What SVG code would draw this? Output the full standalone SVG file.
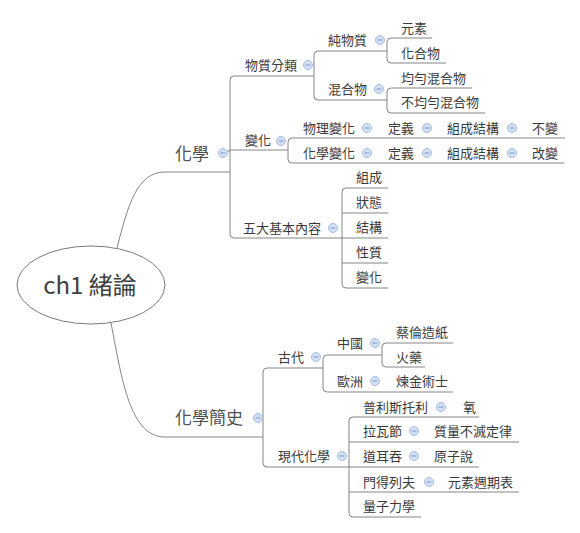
<svg xmlns="http://www.w3.org/2000/svg" width="580" height="533" viewBox="0 0 580 533">
<defs>
<style>
text{font-family:"Noto Sans CJK TC","Noto Sans CJK SC","Noto Sans",sans-serif;fill:#3a3a3a;font-size:13px}
.l1{font-size:17px;fill:#505050}
.root{font-size:24px;fill:#404040}
.c{fill:none;stroke:#858585;stroke-width:1}
.ic circle{fill:#d3e0f4;stroke:#a7bde2;stroke-width:1}
.ic line{stroke:#7d99cc;stroke-width:1}
</style>
<g id="ic" class="ic"><circle cx="0" cy="0" r="4.5"/><line x1="-2.3" y1="0" x2="2.3" y2="0"/></g>
</defs>
<rect width="580" height="533" fill="#fff"/>
<g id="connectors">
<path class="c" d="M117,248 C128,205 137,172 165,172 H230"/>
<path class="c" d="M227,151 H230"/>
<path class="c" d="M313,76 H234 Q230,76 230,80 V234 Q230,238 234,238 H342"/>
<path class="c" d="M230,150 H288"/>
<path class="c" d="M387,51 H318 Q314,51 314,55 V96 Q314,100 318,100 H387"/>
<path class="c" d="M314,76 H313"/>
<path class="c" d="M432,38 H391 Q387,38 387,42 V59 Q387,63 391,63 H446"/>
<path class="c" d="M472,88 H391 Q387,88 387,92 V109 Q387,113 391,113 H485"/>
<path class="c" d="M565,138 H292 Q288,138 288,142 V159 Q288,163 292,163 H564"/>
<path class="c" d="M388,188 H346 Q342,188 342,192 V284 Q342,288 346,288 H388 M342,213 H388 M342,238 H388 M342,263 H388"/>
<path class="c" d="M111,323 C122,380 130,437 165,437 H263"/>
<path class="c" d="M323,368 H267 Q263,368 263,372 V463 Q263,467 267,467 H349"/>
<path class="c" d="M382,355 H327 Q323,355 323,359 V388 Q323,392 327,392 H453"/>
<path class="c" d="M453,343 H386 Q382,343 382,347 V363 Q382,367 386,367 H425"/>
<path class="c" d="M479,417 H353 Q349,417 349,421 V513 Q349,517 353,517 H421 M349,442 H519 M349,467 H479 M349,492 H519"/>
</g>
<g id="root"><ellipse cx="91" cy="285" rx="74" ry="39" fill="#fff" stroke="#7a7a7a" stroke-width="1"/><text class="root" x="90" y="294" text-anchor="middle">ch1 緒論</text></g>
<g id="n-huaxue"><text class="l1" x="175" y="160">化學</text><use href="#ic" x="223" y="153"/></g>
<g id="n-wuzhifenlei"><text x="245" y="70">物質分類</text><use href="#ic" x="308" y="65"/></g>
<g id="n-chunwuzhi"><text x="328" y="45">純物質</text><use href="#ic" x="380" y="40"/></g>
<g id="n-yuansu"><text x="401" y="33">元素</text></g>
<g id="n-huahewu"><text x="401" y="58">化合物</text></g>
<g id="n-hunhewu"><text x="328" y="94">混合物</text><use href="#ic" x="379" y="89"/></g>
<g id="n-junyun"><text x="401" y="83">均勻混合物</text></g>
<g id="n-bujunyun"><text x="401" y="107">不均勻混合物</text></g>
<g id="n-bianhua"><text x="245" y="145">變化</text><use href="#ic" x="281" y="141"/></g>
<g id="n-wulibianhua"><text x="303" y="133">物理變化</text><use href="#ic" x="367" y="128"/></g>
<g id="n-dingyi1"><text x="388" y="133">定義</text><use href="#ic" x="427" y="128"/></g>
<g id="n-zucheng1"><text x="447" y="133">組成結構</text><use href="#ic" x="512" y="128"/></g>
<g id="n-bubian"><text x="532" y="133">不變</text></g>
<g id="n-huaxuebianhua"><text x="303" y="158">化學變化</text><use href="#ic" x="367" y="153"/></g>
<g id="n-dingyi2"><text x="388" y="158">定義</text><use href="#ic" x="427" y="153"/></g>
<g id="n-zucheng2"><text x="447" y="158">組成結構</text><use href="#ic" x="512" y="153"/></g>
<g id="n-gaibian"><text x="532" y="158">改變</text></g>
<g id="n-wuda"><text x="243" y="233">五大基本內容</text><use href="#ic" x="333" y="228"/></g>
<g id="n-zc"><text x="356" y="182">組成</text></g>
<g id="n-zt"><text x="356" y="207">狀態</text></g>
<g id="n-jg"><text x="356" y="232">結構</text></g>
<g id="n-xz"><text x="356" y="257">性質</text></g>
<g id="n-bh"><text x="356" y="282">變化</text></g>
<g id="n-jianshi"><text class="l1" x="175" y="424">化學簡史</text><use href="#ic" x="258" y="418"/></g>
<g id="n-gudai"><text x="278" y="362">古代</text><use href="#ic" x="316" y="357"/></g>
<g id="n-zhongguo"><text x="337" y="348">中國</text><use href="#ic" x="375" y="343"/></g>
<g id="n-cailun"><text x="396" y="337">蔡倫造紙</text></g>
<g id="n-huoyao"><text x="396" y="362">火藥</text></g>
<g id="n-ouzhou"><text x="337" y="386">歐洲</text><use href="#ic" x="375" y="381"/></g>
<g id="n-lianjin"><text x="396" y="386">煉金術士</text></g>
<g id="n-xiandai"><text x="278" y="461">現代化學</text><use href="#ic" x="342" y="456"/></g>
<g id="n-puli"><text x="363" y="412">普利斯托利</text><use href="#ic" x="441" y="407"/></g>
<g id="n-yang"><text x="463" y="412">氧</text></g>
<g id="n-lawa"><text x="363" y="436">拉瓦節</text><use href="#ic" x="414" y="431"/></g>
<g id="n-zhiliang"><text x="434" y="436">質量不滅定律</text></g>
<g id="n-daoer"><text x="363" y="461">道耳吞</text><use href="#ic" x="414" y="456"/></g>
<g id="n-yuanzi"><text x="434" y="461">原子說</text></g>
<g id="n-mende"><text x="363" y="487">門得列夫</text><use href="#ic" x="429" y="482"/></g>
<g id="n-zhouqi"><text x="448" y="487">元素週期表</text></g>
<g id="n-liangzi"><text x="363" y="511">量子力學</text></g>
</svg>
